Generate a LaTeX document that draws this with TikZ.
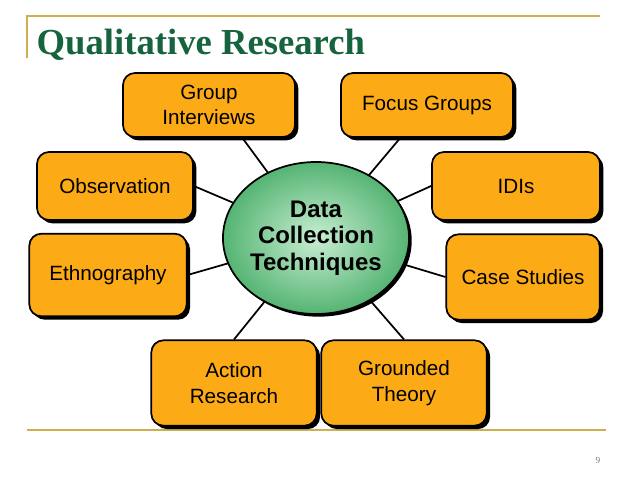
\documentclass[tikz,border=0pt]{standalone}
\usepackage{fontspec}
\setmainfont{Liberation Sans}
\newfontfamily\titlefont{Liberation Serif}
\usetikzlibrary{shadows, backgrounds, shapes.geometric}
\definecolor{boxorange}{RGB}{253,170,23}
\definecolor{titlegreen}{RGB}{22,100,62}
\definecolor{rulegold}{RGB}{205,175,80}
\definecolor{ballgreen}{RGB}{85,180,115}
\definecolor{balllight}{RGB}{200,238,210}

\tikzset{
  method/.style = {draw, line width=1.3pt, rounded corners=9pt, fill=boxorange,
                   align=center, font=\fontsize{15.5}{19}\selectfont, inner sep=0pt,
                   drop shadow={opacity=1, fill=black, shadow xshift=2.5pt, shadow yshift=-2.5pt}},
  hub/.style    = {draw, line width=1.3pt, ellipse, inner sep=0pt, align=center,
                   font=\bfseries\fontsize{18}{20}\selectfont,
                   inner color=balllight, outer color=ballgreen,
                   drop shadow={opacity=1, fill=black, shadow xshift=2pt, shadow yshift=-2pt}},
  spoke/.style  = {line width=1.3pt}
}

\begin{document}
\begin{tikzpicture}[x=0.75pt, y=-0.75pt]
    \useasboundingbox (0,0) rectangle (638,479);
    % frame rules
    \draw [rulegold, line width=0.8pt] (27,58) -- (27,16) -- (600,16);
    \draw [rulegold, line width=0.8pt] (27,430) -- (606,430);
    \node (title) [anchor=west, text=titlegreen, font=\titlefont\bfseries\fontsize{27.5}{30}\selectfont] at (32,45) {Qualitative Research};
    \node (page) [font=\titlefont\fontsize{7}{8}\selectfont, text=gray] at (598,460) {9};

    % hub
    \node (dct) [hub, minimum width=132pt, minimum height=114pt] at (316,238) {Data\\Collection\\Techniques};

    % methods
    \node (grp) [method, minimum width=129pt, minimum height=48pt] at (209,105) {Group\\Interviews};
    \node (foc) [method, minimum width=129pt, minimum height=48pt] at (427,105) {Focus Groups};
    \node (obs) [method, minimum width=117pt, minimum height=51pt] at (115,186) {Observation};
    \node (idi) [method, minimum width=126pt, minimum height=51pt] at (516,186) {IDIs};
    \node (eth) [method, minimum width=118pt, minimum height=62pt] at (108,275) {Ethnography};
    \node (cas) [method, minimum width=115pt, minimum height=64pt] at (523,277) {Case Studies};
    \node (act) [method, minimum width=124pt, minimum height=64pt] at (234,383) {Action\\Research};
    \node (gro) [method, minimum width=124pt, minimum height=64pt] at (404,383) {Grounded\\Theory};

    \begin{scope}[on background layer]
        \draw [spoke] (grp.south) ++(25pt,0) -- (dct.center);
        \draw [spoke] (foc.south) ++(-20pt,0) -- (dct.center);
        \draw [spoke] (obs.east) -- (dct.center);
        \draw [spoke] (idi.west) -- (dct.center);
        \draw [spoke] (eth.east) -- (dct.center);
        \draw [spoke] (cas.west) -- (dct.center);
        \draw [spoke] (act.north) -- (dct.center);
        \draw [spoke] (gro.north) -- (dct.center);
    \end{scope}
\end{tikzpicture}
\end{document}
